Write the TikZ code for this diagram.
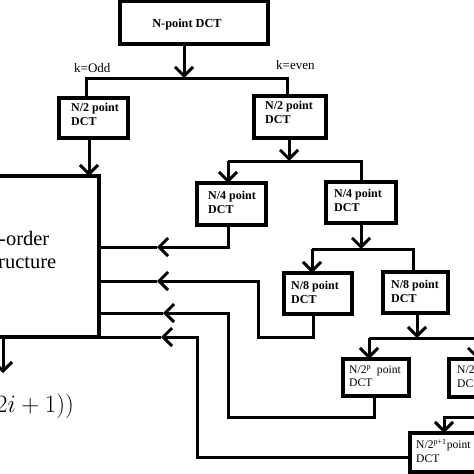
\documentclass[tikz,border=0pt]{standalone}
\usepackage{fontspec}
\setmainfont{Liberation Serif}
\usetikzlibrary{arrows.meta}
\begin{document}
\begin{tikzpicture}[x=1pt,y=-1pt,
  >={Straight Barb[length=9pt,width=18pt]},
  box/.style={draw, line width=3.5pt, anchor=north west, inner sep=0pt, outer sep=0pt},
  conn/.style={line width=3pt},
  bt/.style={font=\fontsize{12}{13.5}\selectfont\bfseries, align=left, anchor=north west, inner sep=0pt},
  rt/.style={font=\fontsize{11.6}{13.5}\selectfont, align=left, anchor=north west, inner sep=0pt},
  kt/.style={font=\fontsize{13}{15}\selectfont, anchor=west, inner sep=0pt},
  bigt/.style={font=\fontsize{20.5}{24}\selectfont, anchor=base west, inner sep=0pt},
]
\fill[white] (0,0) rectangle (474,474);
\useasboundingbox (0,0) rectangle (474,474);
\clip (0,0) rectangle (474,474);

% boxes
\node[box, minimum width=148pt, minimum height=42.5pt] (b1) at (120,1.5) {};
\node[box, minimum width=69pt, minimum height=40pt] (b2) at (59,98) {};
\node[box, minimum width=72pt, minimum height=42pt] (b3) at (254,96) {};
\node[box, minimum width=69pt, minimum height=42pt] (b4) at (197,183) {};
\node[box, minimum width=70pt, minimum height=41pt] (b5) at (326,182) {};
\node[box, minimum width=68pt, minimum height=41pt] (b6) at (284,273) {};
\node[box, minimum width=65pt, minimum height=41pt] (b7) at (383,272) {};
\node[box, minimum width=66pt, minimum height=37pt] (b8) at (343,359) {};
\node[box, minimum width=60pt, minimum height=38pt] (b9) at (449,359) {};
\node[box, minimum width=80pt, minimum height=39pt] (b10) at (410,433) {};
\node[box, line width=3.2pt, minimum width=129pt, minimum height=161pt] (big) at (-30,176) {};

% texts
\node[font=\fontsize{12.3}{14}\selectfont\bfseries, inner sep=0pt] (t1) at (187,25) {N-point DCT};
\node[kt] (kodd) at (74,68) {k=Odd};
\node[kt] (keven) at (276,65) {k=even};
\node[bt] (t2) at (71,103) {N/2 point\\DCT};
\node[bt] (t3) at (265,101) {N/2 point\\DCT};
\node[bt] (t4) at (208,191) {N/4 point\\DCT};
\node[bt] (t5) at (334,189) {N/4 point\\DCT};
\node[bt] (t6) at (291,281) {N/8 point\\DCT};
\node[bt] (t7) at (391,280) {N/8 point\\DCT};
\node[rt] (t8) at (349,365) {N/2\textsuperscript{p}\ \ point\\DCT};
\node[rt] (t9) at (457,366) {N/2\\DC};
\node[rt] (t10) at (416,439) {N/2\textsuperscript{p+1}point\\DCT};
\node[bigt] (o1) at (-1,245) {-order};
\node[bigt] (o2) at (-2,268) {ructure};
\node[anchor=base west, inner sep=0pt, font=\fontsize{23}{27}\selectfont] (m1) at (-4,412) {$2i+1))$};

% coordinates
\coordinate (s1) at (184,78);
\coordinate (s1l) at (86,78);
\coordinate (s1r) at (287,78);
\coordinate (s2) at (89,176);
\coordinate (s3) at (289,161);
\coordinate (s3l) at (228,161);
\coordinate (s3r) at (361,161);
\coordinate (d1) at (228,247);
\coordinate (d2) at (157,247);
\coordinate (s5) at (361,249);
\coordinate (s5l) at (312,249);
\coordinate (s5r) at (413,249);
\coordinate (f1) at (313,337);
\coordinate (f2) at (258,337);
\coordinate (f3) at (258,281);
\coordinate (f4) at (157,281);
\coordinate (s7) at (417,338);
\coordinate (s7l) at (369,338);
\coordinate (s7r) at (477,338);
\coordinate (s7e) at (490,338);
\coordinate (h1) at (374,417);
\coordinate (h2) at (228,417);
\coordinate (h3) at (228,313);
\coordinate (h4) at (163,313);
\coordinate (i1) at (490,417);
\coordinate (i2) at (444,417);
\coordinate (j1) at (197,457);
\coordinate (j2) at (197,337);
\coordinate (j3) at (161,337);
\coordinate (k1) at (3,373);

% connectors
\draw[conn,->] (b1.south -| s1) -- (s1);
\draw[conn] (b2.north -| s1l) |- (s1r) -- (b3.north -| s1r);
\draw[conn,->] (b2.south -| s2) -- (big.north -| s2);
\draw[conn,->] (b3.south -| s3) -- (s3);
\draw[conn] (s3l) -- (s3r) -- (b5.north -| s3r);
\draw[conn,->] (s3l) -- (b4.north -| s3l);
\draw[conn,->] (b4.south -| d1) -- (d1) -- (d2);
\draw[conn] (d2) -- (d1 -| big.east);
\draw[conn,->] (b5.south -| s5) -- (s5);
\draw[conn] (s5l) -- (s5r) -- (b7.north -| s5r);
\draw[conn,->] (s5l) -- (b6.north -| s5l);
\draw[conn,->] (b6.south -| f1) -- (f1) -- (f2) -- (f3) -- (f4);
\draw[conn] (f4) -- (f3 -| big.east);
\draw[conn,->] (b7.south -| s7) -- (s7);
\draw[conn] (s7l) -- (s7e);
\draw[conn,->] (s7l) -- (b8.north -| s7l);
\draw[conn,->] (s7r) -- (b9.north -| s7r);
\draw[conn,->] (b8.south -| h1) -- (h1) -- (h2) -- (h3) -- (h4);
\draw[conn] (h4) -- (h3 -| big.east);
\draw[conn,->] (b9.south -| i1) -- (i1) -- (i2) -- (b10.north -| i2);
\draw[conn,->] (b10.west |- j1) -- (j1) -- (j2) -- (j3);
\draw[conn] (j3) -- (j2 -| big.east);
\draw[conn,->] (big.south -| k1) -- (k1);
\end{tikzpicture}
\end{document}
